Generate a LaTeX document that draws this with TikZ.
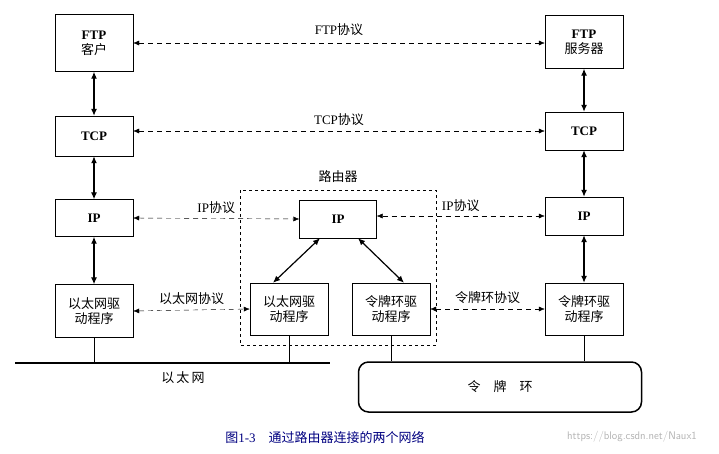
\documentclass[tikz,border=0pt]{standalone}
\usepackage{fontspec}
\setmainfont{Liberation Serif}
\newfontfamily\cjk{Noto Sans CJK SC}
\usetikzlibrary{arrows.meta}
\begin{document}
\begin{tikzpicture}[x=1pt,y=-1pt,
  box/.style={draw,fill=white,minimum width=78pt,align=center,font=\fontsize{13}{15}\selectfont\cjk,inner sep=2pt},
  lbl/.style={font=\fontsize{13}{15}\selectfont\cjk},
  dar/.style={dash pattern=on 5pt off 4pt,{Latex[length=6pt,width=5pt]}-{Latex[length=6pt,width=5pt]}},
  sar/.style={line width=1.2pt,{Latex[length=7pt,width=6pt]}-{Latex[length=7pt,width=6pt]}}]
\useasboundingbox (0,0) rectangle (719,453);
% router
\draw[dashed] (240,190) rectangle (436,345);
\node[lbl] (rl) at (338,177) {路由器};
% boxes
\node[box,minimum height=57pt] (ftpc) at (94,43) {{\rmfamily\bfseries FTP}\\客户};
\node[box,minimum height=40pt,font=\fontsize{13}{15}\selectfont\rmfamily\bfseries] (tcpl) at (94,136) {TCP};
\node[box,minimum height=37pt,font=\fontsize{13}{15}\selectfont\rmfamily\bfseries] (ipl) at (94,218) {IP};
\node[box,minimum height=53pt] (ethl) at (94,311) {以太网驱\\动程序};
\node[box,minimum height=53pt] (ftps) at (584,42) {{\rmfamily\bfseries FTP}\\服务器};
\node[box,minimum height=38pt,font=\fontsize{13}{15}\selectfont\rmfamily\bfseries] (tcpr) at (584,131) {TCP};
\node[box,minimum height=38pt,font=\fontsize{13}{15}\selectfont\rmfamily\bfseries] (ipr) at (584,216) {IP};
\node[box,minimum height=52pt] (tokr) at (584,309) {令牌环驱\\动程序};
\node[box,minimum height=38pt,minimum width=77pt,font=\fontsize{13}{15}\selectfont\rmfamily\bfseries] (ipm) at (338,219) {IP};
\node[box,minimum height=52pt] (ethm) at (289,309) {以太网驱\\动程序};
\node[box,minimum height=52pt] (tokm) at (391,309) {令牌环驱\\动程序};
% vertical
\draw[sar] (ftpc) -- (tcpl);
\draw[sar] (tcpl) -- (ipl);
\draw[sar] (ipl) -- (ethl);
\draw[sar] (ftps) -- (tcpr);
\draw[sar] (tcpr) -- (ipr);
\draw[sar] (ipr) -- (tokr);
\draw[sar] ([xshift=-18pt]ipm.south) -- ([xshift=-16pt]ethm.north);
\draw[sar] ([xshift=20pt]ipm.south) -- ([xshift=13pt]tokm.north);
% protocols
\draw[dar] (ftpc.east) -- node[lbl,above=4pt]{{\rmfamily FTP}协议} (ftps.west |- ftpc.east);
\draw[dar] (tcpl.east |- tcpr.west) -- node[lbl,above=2pt]{{\rmfamily TCP}协议} (tcpr.west);
\draw[dar] (ipl.east) -- node[lbl,above=1pt]{{\rmfamily IP}协议} (ipm.west);
\draw[dar] (ipm.east |- ipr.west) -- node[lbl,above=1pt]{{\rmfamily IP}协议} (ipr.west);
\draw[dar] (ethl.east) -- node[lbl,above=2pt]{以太网协议} (ethm.west);
\draw[dar] (tokm.east) -- node[lbl,above=2pt]{令牌环协议} (tokr.west);
% networks
\coordinate (e1) at (15,363); \coordinate (e2) at (330,363);
\draw[line width=2pt] (e1) -- (e2);
\node[lbl] (eth) at (183,378) {以\,太\,网};
\node[draw,line width=1.5pt,rounded corners=10pt,minimum width=283pt,minimum height=50pt,lbl] (ring) at (500,387) {令\quad 牌\quad 环};
\draw (ethl.south) -- (ethl.south |- e1);
\draw (ethm.south) -- (ethm.south |- e1);
\draw (tokm.south) -- (tokm.south |- ring.north);
\draw (tokr.south) -- (tokr.south |- ring.north);
% caption
\node[font=\fontsize{13}{15}\selectfont\cjk,text=blue!50!black] (cap) at (325,437) {图{\rmfamily 1-3}\quad 通过路由器连接的两个网络};
\node[font=\fontsize{11}{13}\selectfont\sffamily,text=gray!60] (wm) at (632,437) {https://blog.csdn.net/Naux1};
\end{tikzpicture}
\end{document}
